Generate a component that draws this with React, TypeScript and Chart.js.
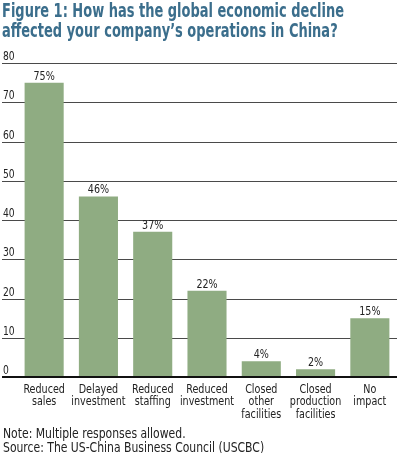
import React, { useEffect, useRef } from "react";
import { Chart, registerables } from "chart.js";

Chart.register(...registerables);

const categories: string[][] = [
  ["Reduced", "sales"],
  ["Delayed", "investment"],
  ["Reduced", "staffing"],
  ["Reduced", "investment"],
  ["Closed", "other", "facilities"],
  ["Closed", "production", "facilities"],
  ["No", "impact"],
];
const values = [75, 46, 37, 22, 4, 2, 15];
const valueLabels = ["75%", "46%", "37%", "22%", "4%", "2%", "15%"];
const yTicks = [0, 10, 20, 30, 40, 50, 60, 70, 80];
const titleLines = [
  "Figure 1: How has the global economic decline",
  "affected your company\u2019s operations in China?",
];
const noteLines = [
  "Note: Multiple responses allowed.",
  "Source: The US-China Business Council (USCBC)",
];

const FONT = "'Liberation Sans Narrow', 'DejaVu Sans Condensed', 'Arial Narrow', sans-serif";
const BAR = "#8fac82";
const TEXT = "#222222";
const TITLE = "#3b6e8c";

function drawText(
  ctx: CanvasRenderingContext2D,
  text: string,
  x: number,
  y: number,
  font: string,
  color: string,
  align: CanvasTextAlign,
  sx: number
) {
  ctx.save();
  ctx.font = font;
  ctx.fillStyle = color;
  ctx.textAlign = align;
  ctx.textBaseline = "alphabetic";
  ctx.translate(x, y);
  ctx.scale(sx, 1);
  ctx.fillText(text, 0, 0);
  ctx.restore();
}

const gridPlugin = {
  id: "customGrid",
  beforeDatasetsDraw(chart: any) {
    const { ctx, chartArea, scales } = chart;
    const y = scales.y;
    ctx.save();
    yTicks.forEach((v) => {
      const py = Math.round(y.getPixelForValue(v));
      if (v !== 0) {
        ctx.strokeStyle = "#4a4a4a";
        ctx.lineWidth = 1;
        ctx.beginPath();
        ctx.moveTo(2, py + 0.5);
        ctx.lineTo(chartArea.right, py + 0.5);
        ctx.stroke();
      }
      drawText(ctx, String(v), 3, py - 3, `12px ${FONT}`, TEXT, "left", 0.85);
    });
    ctx.restore();
  },
  afterDatasetsDraw(chart: any) {
    const { ctx, chartArea, scales } = chart;
    const y = scales.y;
    const x = scales.x;
    ctx.save();
    const py = Math.round(y.getPixelForValue(0));
    ctx.strokeStyle = "#111111";
    ctx.lineWidth = 2;
    ctx.beginPath();
    ctx.moveTo(2, py);
    ctx.lineTo(chartArea.right, py);
    ctx.stroke();
    ctx.restore();
    const meta = chart.getDatasetMeta(0);
    meta.data.forEach((bar: any, i: number) => {
      drawText(ctx, valueLabels[i], bar.x, bar.y - 3, `12.5px ${FONT}`, TEXT, "center", 0.85);
    });
    categories.forEach((lines, i) => {
      const px = x.getPixelForValue(i);
      lines.forEach((t, j) => {
        drawText(ctx, t, px, py + 16 + j * 12.4, `13px ${FONT}`, TEXT, "center", 0.82);
      });
    });
  },
  afterDraw(chart: any) {
    const { ctx } = chart;
    titleLines.forEach((t, i) => {
      drawText(ctx, t, 2, 17 + i * 20, `bold 19px ${FONT}`, TITLE, "left", 0.76);
    });
    noteLines.forEach((t, i) => {
      drawText(ctx, t, 3, 438 + i * 14, `14px ${FONT}`, TEXT, "left", 0.86);
    });
  },
};

export default function App() {
  const ref = useRef<HTMLCanvasElement | null>(null);
  useEffect(() => {
    document.body.style.margin = "0";
    if (!ref.current) return;
    const chart = new Chart(ref.current, {
      type: "bar",
      data: {
        labels: categories,
        datasets: [
          {
            data: values,
            backgroundColor: BAR,
            borderWidth: 0,
            barPercentage: 0.72,
            categoryPercentage: 1,
          },
        ],
      },
      options: {
        animation: false,
        responsive: false,
        devicePixelRatio: 1,
        layout: { padding: { left: 0, right: 3, top: 63, bottom: 68 } },
        plugins: {
          legend: { display: false },
          tooltip: { enabled: false },
          title: { display: false },
        },
        scales: {
          x: {
            grid: { display: false },
            border: { display: false },
            ticks: { display: false },
          },
          y: {
            min: 0,
            max: 80,
            grid: { display: false },
            border: { display: false },
            ticks: { display: false },
            afterFit: (s: any) => {
              s.width = 17;
            },
          },
        },
      },
      plugins: [gridPlugin],
    });
    return () => chart.destroy();
  }, []);
  return (
    <div style={{ width: 400, height: 453, background: "#fff" }}>
      <canvas ref={ref} width={400} height={453} style={{ width: 400, height: 453, display: "block" }} />
    </div>
  );
}
